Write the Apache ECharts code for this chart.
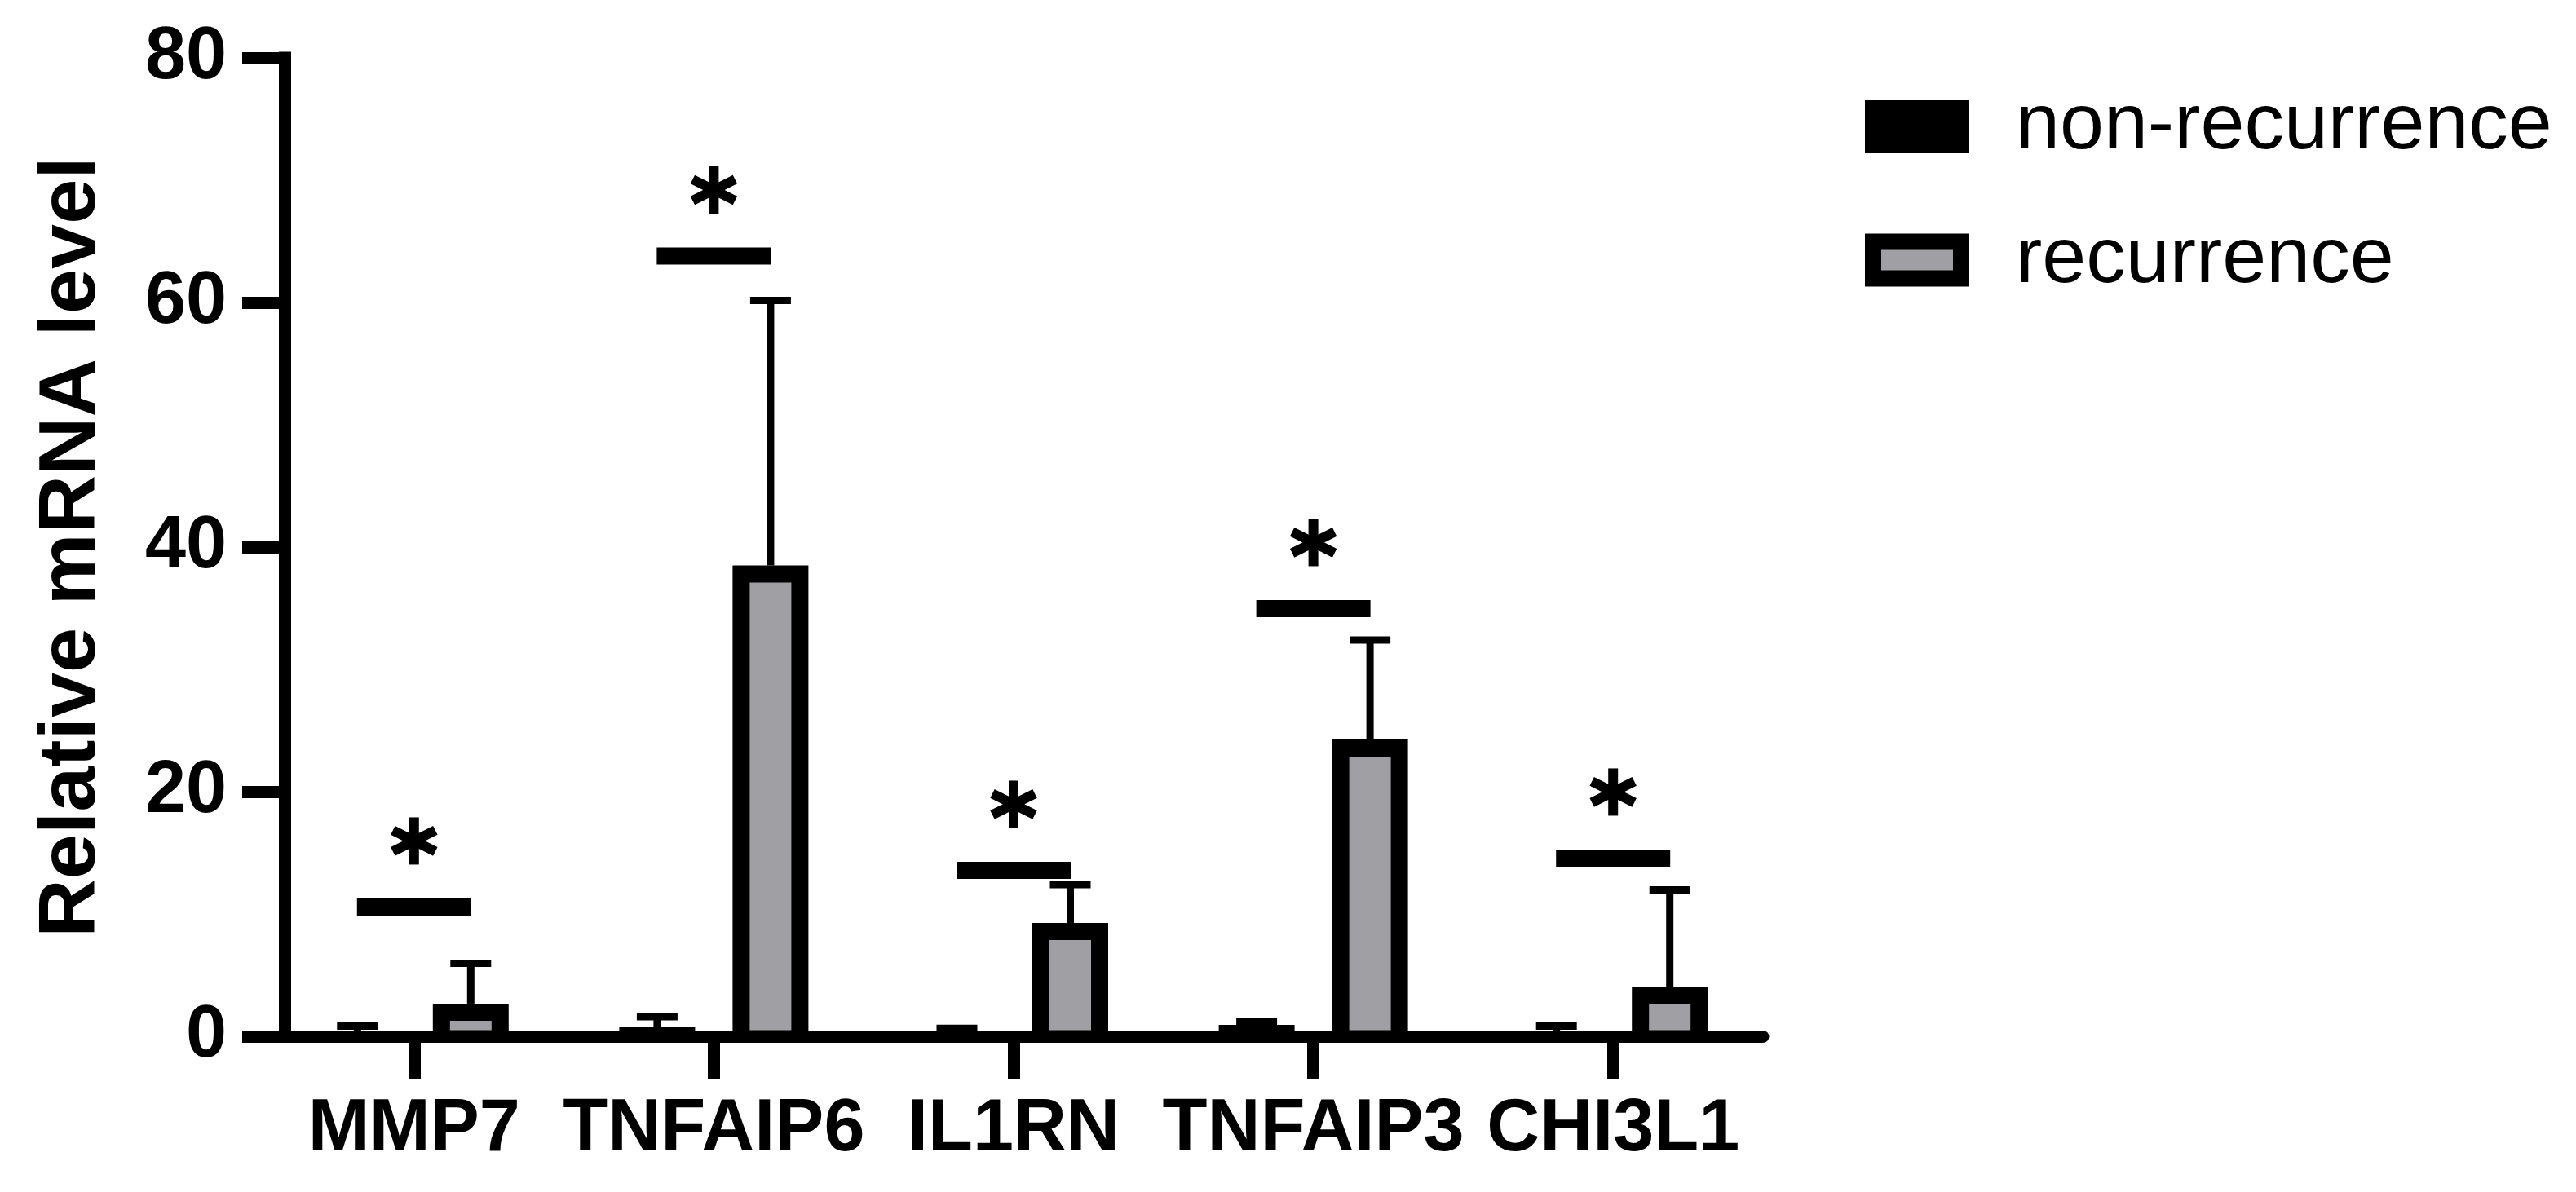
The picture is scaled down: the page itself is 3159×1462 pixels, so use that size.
<!DOCTYPE html>
<html>
<head>
<meta charset="utf-8">
<script src="https://cdn.jsdelivr.net/npm/echarts@6/dist/echarts.min.js"></script>
<style>
  html, body { margin: 0; padding: 0; background: #fff; }
  #chart { width: 3159px; height: 1462px; }
</style>
</head>
<body>
<div id="chart"></div>
<script>
// data
const genes = ['MMP7', 'TNFAIP6', 'IL1RN', 'TNFAIP3', 'CHI3L1']
const nonRecMean = [0.4, 0.73, 0.3, 0.93, 0.4]
const nonRecSD = [0.43, 0.87, 0.35, 0.24, 0.43]
const recMean = [2.67, 38.5, 9.27, 24.27, 4.07]
const recSD = [3.3, 21.67, 3.13, 8.13, 7.9]
const sigLevel = [10.57, 63.8, 13.57, 34.97, 14.57]
const yTicks = [0, 20, 40, 60, 80]

const FONT = "'Liberation Sans', Arial, sans-serif"
const GRAY = '#a0a0a4'
const AXIS_W = 15
const BAR_W = 93
const BORDER = 21
const BAR_OFF = 69.5
const ERR_W = 9
const CAP_W = 50

function barRenderer(offset, fill) {
  return function (params, api) {
    const i = api.value(0)
    const mean = api.value(1)
    const sd = api.value(2)
    const base = api.coord([i, 0])
    const top = api.coord([i, mean])
    const err = api.coord([i, mean + sd])
    const cx = base[0] + offset
    const x0 = cx - BAR_W / 2
    const children = [{
      type: 'rect',
      shape: { x: x0, y: top[1], width: BAR_W, height: base[1] - top[1] },
      style: { fill: '#000' },
    }]
    const innerH = base[1] - AXIS_W / 2 - (top[1] + BORDER)
    if (fill && innerH > 0) {
      children.push({
        type: 'rect',
        shape: { x: x0 + BORDER, y: top[1] + BORDER, width: BAR_W - 2 * BORDER, height: innerH },
        style: { fill },
      })
    }
    children.push({
      type: 'line',
      shape: { x1: cx, y1: top[1], x2: cx, y2: err[1] },
      style: { stroke: '#000', lineWidth: ERR_W },
    })
    children.push({
      type: 'rect',
      shape: { x: cx - CAP_W / 2, y: err[1] - ERR_W / 2, width: CAP_W, height: ERR_W },
      style: { fill: '#000' },
    })
    return { type: 'group', children }
  }
}

// significance bar + asterisk above each pair
function sigRenderer(params, api) {
  const p = api.coord([api.value(0), api.value(1)])
  const cx = p[0], ly = p[1]
  const ay = ly - 81
  const st = { stroke: '#000', lineWidth: 12 }
  return {
    type: 'group',
    children: [
      { type: 'rect', shape: { x: cx - 70, y: ly - 10.5, width: 140, height: 21 }, style: { fill: '#000' } },
      { type: 'line', shape: { x1: cx, y1: ay - 29, x2: cx, y2: ay + 29 }, style: st },
      { type: 'line', shape: { x1: cx - 26, y1: ay - 13, x2: cx + 26, y2: ay + 13 }, style: st },
      { type: 'line', shape: { x1: cx - 26, y1: ay + 13, x2: cx + 26, y2: ay - 13 }, style: st },
    ],
  }
}

const chart = echarts.init(document.getElementById('chart'))
chart.setOption({
  animation: false,
  backgroundColor: '#fff',
  grid: { left: 324, top: 71, width: 1838, height: 1200 },
  legend: {
    orient: 'vertical',
    left: 2282,
    top: 102,
    itemWidth: 108,
    itemHeight: 45,
    itemGap: 66.5,
    selectedMode: false,
    textStyle: { fontFamily: FONT, fontSize: 97, color: '#000', padding: [0, 0, 0, 62] },
    data: [
      { name: 'non-recurrence', icon: 'rect', itemStyle: { color: '#000', borderColor: '#000', borderWidth: 20 } },
      { name: 'recurrence', icon: 'rect', itemStyle: { color: GRAY, borderColor: '#000', borderWidth: 20 } },
    ],
  },
  xAxis: {
    type: 'category',
    data: genes,
    boundaryGap: true,
    axisLine: { show: true, lineStyle: { color: '#000', width: AXIS_W } },
    axisTick: { show: true, alignWithLabel: true, interval: 0, length: 52, lineStyle: { color: '#000', width: AXIS_W } },
    axisLabel: { interval: 0, hideOverlap: false, margin: 70, color: '#000', fontFamily: FONT, fontWeight: 'bold', fontSize: 90 },
    splitLine: { show: false },
  },
  yAxis: {
    type: 'value',
    min: yTicks[0],
    max: yTicks[yTicks.length - 1],
    interval: yTicks[1] - yTicks[0],
    offset: -25,
    name: 'Relative mRNA level',
    nameLocation: 'middle',
    nameGap: 211,
    nameTextStyle: { color: '#000', fontFamily: FONT, fontWeight: 'bold', fontSize: 99 },
    axisLine: { show: true, lineStyle: { color: '#000', width: AXIS_W, cap: 'square' } },
    axisTick: { show: true, length: 52, lineStyle: { color: '#000', width: AXIS_W } },
    axisLabel: { margin: 71, color: '#000', fontFamily: FONT, fontWeight: 'bold', fontSize: 90 },
    splitLine: { show: false },
  },
  series: [
    {
      name: 'non-recurrence',
      type: 'custom',
      itemStyle: { color: '#000' },
      renderItem: barRenderer(-BAR_OFF, null),
      encode: { x: 0, y: 1 },
      data: genes.map((g, i) => [i, nonRecMean[i], nonRecSD[i]]),
    },
    {
      name: 'recurrence',
      type: 'custom',
      itemStyle: { color: GRAY },
      renderItem: barRenderer(BAR_OFF, GRAY),
      encode: { x: 0, y: 1 },
      data: genes.map((g, i) => [i, recMean[i], recSD[i]]),
    },
    {
      name: 'sig',
      type: 'custom',
      renderItem: sigRenderer,
      encode: { x: 0, y: 1 },
      data: genes.map((g, i) => [i, sigLevel[i]]),
    },
  ],
})
</script>
</body>
</html>
